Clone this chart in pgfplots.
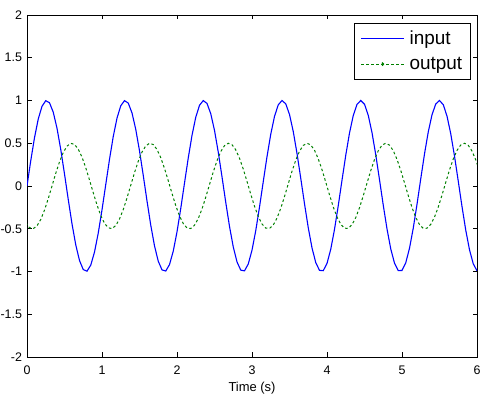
\documentclass[border=0pt]{standalone}
\usepackage{fontspec}
\setmainfont{Liberation Sans}
\usepackage{pgfplots}
\pgfplotsset{compat=1.18}
\definecolor{mblue}{rgb}{0,0,1}
\definecolor{mgreen}{rgb}{0,0.5,0}
\begin{document}
\begin{tikzpicture}
\begin{axis}[
  scale only axis,
  width=450bp, height=342bp,
  xmin=0, xmax=6, ymin=-2, ymax=2,
  xtick={0,1,2,3,4,5,6},
  xticklabels={0,1,2,3,4,5,6},
  ytick={-2,-1.5,-1,-0.5,0,0.5,1,1.5,2},
  yticklabels={-2,-1.5,-1,-0.5,0,0.5,1,1.5,2},
  tick align=inside,
  major tick length=4.5bp,
  tick style={black, line width=0.6bp},
  axis line style={black, line width=0.8bp},
  ticklabel style={font=\fontsize{12.5}{14}\selectfont},
  xticklabel style={anchor=base, yshift=-17bp},
  yticklabel style={xshift=-1.5bp},
  xlabel={Time (s)},
  xlabel style={at={(axis description cs:0.5,0)}, anchor=base, yshift=-34.7bp, font=\fontsize{13}{15}\selectfont},
  legend style={at={(1,1)}, anchor=north east, xshift=-6bp, yshift=-7.7bp,
    font=\fontsize{19}{22}\selectfont, draw=black, line width=0.6bp, fill=white,
    inner xsep=6.5bp, inner ysep=6bp, row sep=7bp},
  legend cell align=left,
]
\addplot[color=mblue, line width=1.1bp,
  legend image code/.code={\draw[draw=mblue, color=mblue, line width=1.1bp, solid] (0bp,0bp) -- (43bp,0bp); \path (46bp,0bp);}]
coordinates {
(0,0) (0.05,0.2955) (0.1,0.5646) (0.15,0.7833) (0.2,0.9320) (0.25,0.9975) (0.3,0.9738) (0.35,0.8632) (0.4,0.6755) (0.45,0.4274) (0.5,0.1411) (0.55,-0.1577) (0.6,-0.4425) (0.65,-0.6878) (0.7,-0.8716) (0.75,-0.9775) (0.8,-0.9962) (0.85,-0.9258) (0.9,-0.7728) (0.95,-0.5507) (1,-0.2794)
(1.05,0.0168) (1.1,0.3115) (1.15,0.5784) (1.2,0.7937) (1.25,0.9380) (1.3,0.9985) (1.35,0.9699) (1.4,0.8546) (1.45,0.6630) (1.5,0.4121) (1.55,0.1245) (1.6,-0.1743) (1.65,-0.4576) (1.7,-0.6999) (1.75,-0.8797) (1.8,-0.9809) (1.85,-0.9945) (1.9,-0.9193) (1.95,-0.7620) (2,-0.5366)
(2.05,-0.2632) (2.1,0.0336) (2.15,0.3274) (2.2,0.5921) (2.25,0.8038) (2.3,0.9437) (2.35,0.9993) (2.4,0.9657) (2.45,0.8458) (2.5,0.6503) (2.55,0.3967) (2.6,0.1078) (2.65,-0.1909) (2.7,-0.4724) (2.75,-0.7118) (2.8,-0.8876) (2.85,-0.9840) (2.9,-0.9926) (2.95,-0.9126) (3,-0.7510)
(3.05,-0.5223) (3.1,-0.2471) (3.15,0.0504) (3.2,0.3433) (3.25,0.6055) (3.3,0.8137) (3.35,0.9491) (3.4,0.9998) (3.45,0.9612) (3.5,0.8367) (3.55,0.6374) (3.6,0.3812) (3.65,0.0910) (3.7,-0.2074) (3.75,-0.4872) (3.8,-0.7236) (3.85,-0.8952) (3.9,-0.9869) (3.95,-0.9905) (4,-0.9056)
(4.05,-0.7398) (4.1,-0.5078) (4.15,-0.2307) (4.2,0.0672) (4.25,0.3590) (4.3,0.6189) (4.35,0.8233) (4.4,0.9543) (4.45,1.0000) (4.5,0.9564) (4.55,0.8273) (4.6,0.6244) (4.65,0.3657) (4.7,0.0743) (4.75,-0.2238) (4.8,-0.5017) (4.85,-0.7351) (4.9,-0.9025) (4.95,-0.9895) (5,-0.9880)
(5.05,-0.8983) (5.1,-0.7284) (5.15,-0.4933) (5.2,-0.2143) (5.25,0.0840) (5.3,0.3747) (5.35,0.6319) (5.4,0.8328) (5.45,0.9592) (5.5,0.9999) (5.55,0.9513) (5.6,0.8177) (5.65,0.6111) (5.7,0.3499) (5.75,0.0575) (5.8,-0.2401) (5.85,-0.5163) (5.9,-0.7464) (5.95,-0.9097) (6,-0.9918)
};
\addlegendentry{input}
\addplot[color=mgreen, line width=1bp, dash pattern=on 2.5bp off 2.5bp,
  legend image code/.code={\draw[draw=mgreen, line width=1bp, dash pattern=on 2.5bp off 2.5bp] (0bp,0bp) -- (43bp,0bp); \fill[mgreen] (21.5bp,0bp) circle (1.3bp); \path (46bp,0bp);}]
coordinates {
(-0.0167,-0.4316) (0.0333,-0.4869) (0.0833,-0.4988) (0.1333,-0.4660) (0.1833,-0.3917) (0.2333,-0.2823) (0.2833,-0.1478)
(0.3333,0) (0.3833,0.1478) (0.4333,0.2823) (0.4833,0.3917) (0.5333,0.4660) (0.5833,0.4988) (0.6333,0.4869) (0.6833,0.4316) (0.7333,0.3378) (0.7833,0.2137) (0.8333,0.0706)
(0.8833,-0.0789) (0.9333,-0.2213) (0.9833,-0.3439) (1.0333,-0.4358) (1.0833,-0.4888) (1.1333,-0.4981) (1.1833,-0.4629) (1.2333,-0.3864) (1.2833,-0.2754) (1.3333,-0.1397)
(1.3833,0.0084) (1.4333,0.1558) (1.4833,0.2892) (1.5333,0.3969) (1.5833,0.4690) (1.6333,0.4993) (1.6833,0.4850) (1.7333,0.4273) (1.7833,0.3315) (1.8333,0.2061) (1.8833,0.0623)
(1.9333,-0.0872) (1.9833,-0.2288) (2.0333,-0.3500) (2.0833,-0.4399) (2.1333,-0.4905) (2.1833,-0.4973) (2.2333,-0.4597) (2.2833,-0.3810) (2.3333,-0.2683) (2.3833,-0.1316)
(2.4333,0.0168) (2.4833,0.1637) (2.5333,0.2961) (2.5833,0.4019) (2.6333,0.4719) (2.6833,0.4997) (2.7333,0.4829) (2.7833,0.4229) (2.8333,0.3252) (2.8833,0.1984) (2.9333,0.0539)
(2.9833,-0.0955) (3.0333,-0.2362) (3.0833,-0.3559) (3.1333,-0.4438) (3.1833,-0.4920) (3.2333,-0.4963) (3.2833,-0.4563) (3.3333,-0.3755) (3.3833,-0.2612) (3.4333,-0.1236)
(3.4833,0.0252) (3.5333,0.1717) (3.5833,0.3028) (3.6333,0.4069) (3.6833,0.4746) (3.7333,0.4999) (3.7833,0.4806) (3.8333,0.4184) (3.8833,0.3187) (3.9333,0.1906) (3.9833,0.0455)
(4.0333,-0.1037) (4.0833,-0.2436) (4.1333,-0.3618) (4.1833,-0.4476) (4.2333,-0.4935) (4.2833,-0.4953) (4.3333,-0.4528) (4.3833,-0.3699) (4.4333,-0.2539) (4.4833,-0.1154)
(4.5333,0.0336) (4.5833,0.1795) (4.6333,0.3095) (4.6833,0.4117) (4.7333,0.4772) (4.7833,0.5000) (4.8333,0.4782) (4.8833,0.4137) (4.9333,0.3122) (4.9833,0.1829) (5.0333,0.0372)
(5.0833,-0.1119) (5.1333,-0.2509) (5.1833,-0.3676) (5.2333,-0.4513) (5.2833,-0.4948) (5.3333,-0.4940) (5.3833,-0.4492) (5.4333,-0.3642) (5.4833,-0.2467) (5.5333,-0.1072)
(5.5833,0.0420) (5.6333,0.1874) (5.6833,0.3160) (5.7333,0.4164) (5.7833,0.4796) (5.8333,0.5000) (5.8833,0.4757) (5.9333,0.4089) (5.9833,0.3056) (6.0333,0.1750)
};
\addlegendentry{output}
\end{axis}
\pgfresetboundingbox
\path[use as bounding box] ([shift={(-27bp,-39bp)}]current axis.south west) rectangle ([shift={(13bp,15bp)}]current axis.north east);
\end{tikzpicture}
\end{document}
